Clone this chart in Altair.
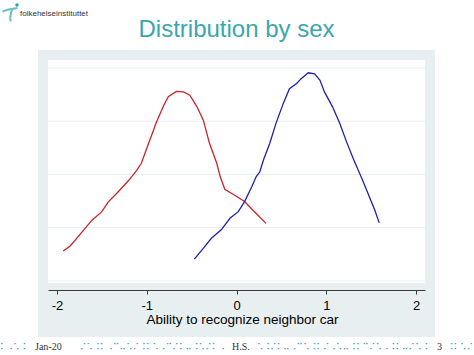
import altair as alt
import pandas as pd

# Kernel density curves
red_x = [-1.93, -1.85, -1.72, -1.61, -1.50, -1.43, -1.32, -1.20, -1.11, -1.06, -0.98, -0.89,
         -0.81, -0.76, -0.67, -0.59, -0.52, -0.44, -0.37, -0.30, -0.22, -0.18, -0.13, -0.02,
         0.09, 0.20, 0.33]
red_y = [0.056, 0.066, 0.092, 0.114, 0.130, 0.148, 0.167, 0.189, 0.208, 0.221, 0.258, 0.299,
         0.330, 0.346, 0.356, 0.355, 0.349, 0.327, 0.302, 0.258, 0.221, 0.195, 0.172, 0.161,
         0.149, 0.130, 0.108]
blue_x = [-0.47, -0.37, -0.28, -0.17, -0.07, 0.02, 0.09, 0.17, 0.22, 0.26, 0.30, 0.37, 0.44,
          0.52, 0.59, 0.67, 0.72, 0.80, 0.87, 0.93, 0.98, 1.07, 1.15, 1.22, 1.30, 1.40, 1.48,
          1.54, 1.59]
blue_y = [0.041, 0.061, 0.080, 0.096, 0.118, 0.130, 0.149, 0.177, 0.196, 0.205, 0.227, 0.258,
          0.296, 0.333, 0.361, 0.371, 0.380, 0.391, 0.389, 0.377, 0.355, 0.327, 0.296, 0.264,
          0.230, 0.191, 0.158, 0.133, 0.109]
series = ["Female", "Male"]
x_ticks = [-2, -1, 0, 1, 2]
grid_y = [0.0, 0.1, 0.2, 0.3, 0.4]

W, H = 377, 223

df = pd.DataFrame({
    "x": red_x + blue_x,
    "y": red_y + blue_y,
    "sex": [series[0]] * len(red_x) + [series[1]] * len(blue_x),
    "i": list(range(len(red_x))) + list(range(len(blue_x))),
})

xscale = alt.Scale(domain=[-2.1, 2.1], nice=False, zero=False)
yscale = alt.Scale(domain=[-0.004, 0.415], nice=False, zero=False)

one = alt.Data(values=[{"a": 1}])

panel = alt.Chart(one).mark_rect(color="#e7eff1").encode(
    x=alt.value(-10), x2=alt.value(387), y=alt.value(-10), y2=alt.value(277))
inner = alt.Chart(one).mark_rect(color="white").encode(
    x=alt.value(0), x2=alt.value(W), y=alt.value(0), y2=alt.value(H))
grid = alt.Chart(pd.DataFrame({"g": grid_y})).mark_rule(color="#e8eff1", strokeWidth=1).encode(
    y=alt.Y("g:Q", scale=yscale, axis=None), x=alt.value(0), x2=alt.value(W))

lines = alt.Chart(df).mark_line(strokeWidth=1.3).encode(
    x=alt.X("x:Q", scale=xscale, axis=alt.Axis(
        values=x_ticks, title="Ability to recognize neighbor car", grid=False,
        labelExpr="'' + datum.value",
        offset=7, tickSize=4, domainColor="#3a3a3a", tickColor="#3a3a3a",
        labelFont="Liberation Sans", labelFontSize=13, labelColor="black",
        labelBaseline="alphabetic", labelPadding=15, labelFlush=False,
        titleFont="Liberation Sans", titleFontSize=13.5, titleFontWeight="normal",
        titleColor="black", titleX=194, titleY=33, titleBaseline="alphabetic",
        zindex=1)),
    y=alt.Y("y:Q", scale=yscale, axis=None),
    color=alt.Color("sex:N", scale=alt.Scale(domain=series, range=["#cc2229", "#2020a8"]),
                    legend=None),
    order="i:Q",
)

title = alt.Chart(one).mark_text(
    text="Distribution by sex", font="Liberation Sans", fontSize=24, color="#3aa7ad",
    align="center", baseline="alphabetic").encode(x=alt.value(188.5), y=alt.value(-23.5))

logo_text = alt.Chart(one).mark_text(
    text="folkehelseinstituttet", font="Liberation Sans", fontSize=8, color="#333333",
    align="left", baseline="middle").encode(x=alt.value(-28), y=alt.value(-46))
logo_icon = alt.Chart(one).mark_point(
    shape="M-1,-0.3 C-0.4,-0.7 0.3,-0.6 1,-0.8 M0.3,-0.65 C0.05,0 -0.05,0.5 0.1,1",
    filled=False, color="#2aa3ab", strokeWidth=2, size=220).encode(
    x=alt.value(-38), y=alt.value(-46))
logo_dot = alt.Chart(one).mark_point(filled=True, color="#2aa3ab", size=12, opacity=1).encode(
    x=alt.value(-31), y=alt.value(-55))

foot_font = "Liberation Serif"
foot = []
for txt, xx in [("Jan-20", -13), ("H.S.", 184), ("3", 389)]:
    foot.append(alt.Chart(one).mark_text(
        text=txt, font=foot_font, fontSize=10, color="#333333", align="left",
        baseline="middle").encode(x=alt.value(xx), y=alt.value(287)))

dots = [("⠅⠠⠡⠨", -48), ("⠌⠡⠨⠅⠠⠉⠤⠡⠌⠨⠅⠡⠠⠉⠌⠅⠤⠨⠡⠌⠅⠠", 32),
        ("⠡⠨⠌⠅⠤⠠⠉⠡⠨⠅⠌⠠⠡⠤⠨⠅⠉⠌⠡⠠⠨⠅⠤⠌⠡⠨", 209), ("⠨⠅⠡⠌", 399)]
for txt, xx in dots:
    foot.append(alt.Chart(one).mark_text(
        text=txt, font="DejaVu Sans", fontSize=9, color="#3f9fc2", align="left",
        baseline="middle").encode(x=alt.value(xx), y=alt.value(287)))

chart = alt.layer(panel, inner, grid, lines, title, logo_text, logo_icon, logo_dot, *foot).properties(
    width=W, height=H,
    padding={"left": 48, "top": 60, "right": 49, "bottom": 72},
    autosize=alt.AutoSizeParams(type="none"),
).configure_view(stroke=None).configure(background="white")

chart.save("out.html", embed_options={"renderer": "svg", "actions": False})
